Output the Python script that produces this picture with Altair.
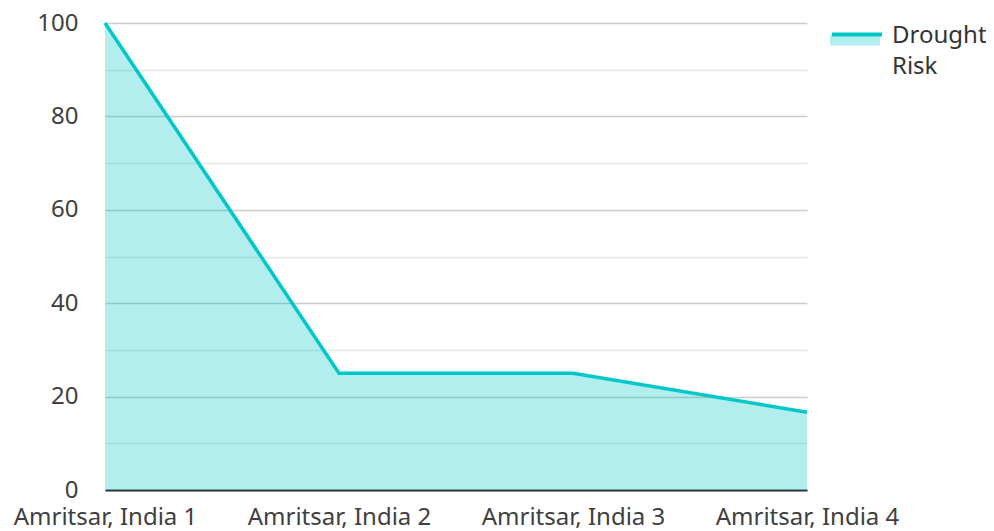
import altair as alt
import pandas as pd

categories = ["Amritsar, India 1", "Amritsar, India 2", "Amritsar, India 3", "Amritsar, India 4"]
values = [100, 25, 25, 16.67]
series_name = "Drought Risk"
y_ticks = [0, 10, 20, 30, 40, 50, 60, 70, 80, 90, 100]

df = pd.DataFrame({"city": categories, "risk": values, "series": [series_name] * len(categories)})

TEAL = "#00c8c8"
FONT = "Noto Sans"
FS = 24

x_enc = alt.X("city:O", scale=alt.Scale(type="point", padding=0), sort=categories,
              axis=alt.Axis(title=None, labelAngle=0, ticks=False, labelPadding=15,
                            labelFontSize=FS, labelColor="#404040", labelFont=FONT,
                            labelLimit=400,
                            domainColor="#333333", domainWidth=2, grid=False))

y_enc = alt.Y("risk:Q", scale=alt.Scale(domain=[0, 100], nice=False),
              axis=alt.Axis(values=y_ticks, title=None, ticks=False, domain=False,
                            labelPadding=27, labelFontSize=FS, labelColor="#404040",
                            labelFont=FONT,
                            labelExpr="datum.value % 20 === 0 ? datum.label : ''",
                            grid=True, gridWidth=1.5,
                            gridColor=alt.condition("datum.value % 20 === 0",
                                                    alt.value("#cccccc"), alt.value("#e6e6e6"))))

legend_common = dict(title=None, orient="none", legendX=725, legendY=-26,
                     symbolSize=2500, labelFontSize=FS, labelFont=FONT,
                     labelColor="#333333", labelExpr="split(datum.label, ' ')",
                     labelBaseline="top", labelOffset=8)

area = alt.Chart(df).mark_area(fillOpacity=0.3).encode(
    x=x_enc,
    y=y_enc,
    fill=alt.Fill("series:N", scale=alt.Scale(range=[TEAL]),
                  legend=alt.Legend(symbolType="M-1,0.5H1V0.94H-1Z",
                                    symbolOpacity=0.3, symbolStrokeWidth=0,
                                    labelOpacity=0, **legend_common)),
)

line = alt.Chart(df).mark_line(strokeWidth=3.5, color=TEAL).encode(
    x=x_enc,
    y=alt.Y("risk:Q"),
    stroke=alt.Stroke("series:N", scale=alt.Scale(range=[TEAL]),
                      legend=alt.Legend(symbolType="M-1,0.42H1", symbolStrokeWidth=4,
                                        **legend_common)),
)

chart = alt.layer(area, line).resolve_scale(
    fill="independent", stroke="independent"
).resolve_legend(fill="independent", stroke="independent").properties(
    width=702, height=467,
    autosize=alt.AutoSizeParams(type="none"),
    padding={"left": 97, "top": 15, "right": 179, "bottom": 41},
).configure(
    font=FONT, style={"guide-label": {"lineHeight": 31}}
).configure_view(stroke="transparent", strokeWidth=0)

chart.save("out.html", embed_options={"renderer": "svg", "actions": False})
